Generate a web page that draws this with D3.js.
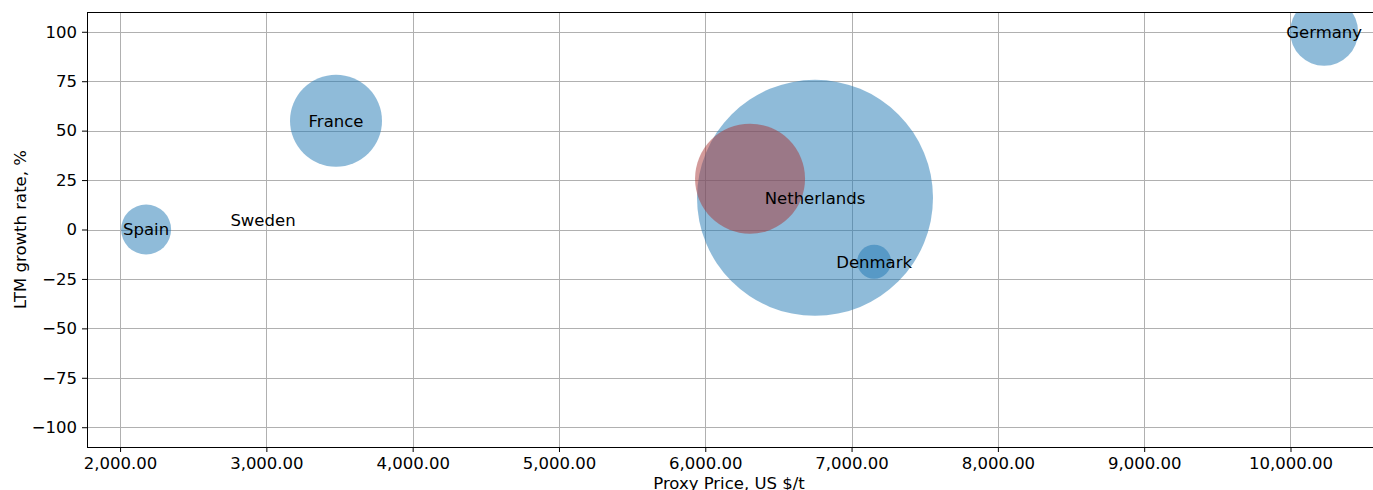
<!DOCTYPE html>
<html><head><meta charset="utf-8">
<script src="https://cdn.jsdelivr.net/npm/d3@7"></script>
<style>
body{margin:0;background:#fff;}
svg{display:block;font-family:"DejaVu Sans",sans-serif;}
</style></head>
<body><svg id="c" width="1373" height="490"></svg>
<script>
const countries = ["Spain","Sweden","France","Netherlands","Denmark","Germany"];
const prices = [2178, 2977, 3476, 6750, 7154, 10230];
const growth = [0, 4.5, 55, 16, -16.3, 100];
const sizes = [625, 0, 2116, 13924, 289, 1156];
const highlightPrice = [6306];
const highlightGrowth = [25.7];
const highlightSize = [3025];
const xTicks = [2000,3000,4000,5000,6000,7000,8000,9000,10000];
const yTicks = [-100,-75,-50,-25,0,25,50,75,100];

const FS = 16.5;
const svg = d3.select("#c");
const L=87, R=1373, T=12, B=447;
const x = d3.scaleLinear().domain([1774,10564]).range([L,R]);
const y = d3.scaleLinear().domain([-110,110]).range([B,T]);
const r = d3.scaleSqrt().domain([0,13924]).range([0,118]);

svg.append("defs").append("clipPath").attr("id","pc")
  .append("rect").attr("x",L).attr("y",T).attr("width",R-L).attr("height",B-T);

// grid
const g = svg.append("g");
g.selectAll(".gx").data(xTicks).enter().append("line")
  .attr("x1",d=>Math.round(x(d))+0.5).attr("x2",d=>Math.round(x(d))+0.5)
  .attr("y1",T).attr("y2",B).attr("stroke","#b0b0b0").attr("stroke-width",1);
g.selectAll(".gy").data(yTicks).enter().append("line")
  .attr("y1",d=>Math.round(y(d))+0.5).attr("y2",d=>Math.round(y(d))+0.5)
  .attr("x1",L).attr("x2",R).attr("stroke","#b0b0b0").attr("stroke-width",1);

// bubbles
const pg = svg.append("g").attr("clip-path","url(#pc)");
pg.selectAll(".b").data(countries).enter().append("circle")
  .attr("cx",(d,i)=>x(prices[i])).attr("cy",(d,i)=>y(growth[i]))
  .attr("r",(d,i)=>r(sizes[i]))
  .attr("fill","#1f77b4").attr("fill-opacity",0.5);
pg.selectAll(".h").data(highlightPrice).enter().append("circle")
  .attr("cx",(d,i)=>x(d)).attr("cy",(d,i)=>y(highlightGrowth[i]))
  .attr("r",(d,i)=>r(highlightSize[i]))
  .attr("fill","#a83535").attr("fill-opacity",0.5);

// labels
svg.selectAll(".lbl").data(countries).enter().append("text")
  .attr("x",(d,i)=>x(prices[i])).attr("y",(d,i)=>y(growth[i]))
  .attr("dy","0.35em").attr("text-anchor","middle")
  .attr("font-size",FS).attr("fill","#000").text(d=>d);

// axes
const fmt = d3.format(",.2f");
const xa = svg.append("g").attr("transform",`translate(0,${B})`)
  .call(d3.axisBottom(x).tickValues(xTicks).tickFormat(fmt).tickSize(5).tickPadding(5));
const ya = svg.append("g").attr("transform",`translate(${L},0)`)
  .call(d3.axisLeft(y).tickValues(yTicks).tickFormat(d=>d<0?"\u2212"+Math.abs(d):d).tickSize(5).tickPadding(5));
[xa,ya].forEach(a=>{
  a.selectAll("text").attr("font-size",FS).attr("fill","#000").attr("font-family","DejaVu Sans");
  a.selectAll("line").attr("stroke","#000");
  a.select(".domain").attr("stroke","#000").attr("stroke-width",1);
});
xa.select(".domain").attr("d",`M${L},0.5H${R}`);
ya.select(".domain").attr("d",`M0.5,${T}V${B}`);
svg.append("line").attr("x1",L).attr("x2",R).attr("y1",T+0.5).attr("y2",T+0.5).attr("stroke","#000");

svg.append("text").attr("x",(L+R)/2-1).attr("y",489).attr("text-anchor","middle")
  .attr("font-size",FS).text("Proxy Price, US $/t");
svg.append("text").attr("transform",`translate(26,${(T+B)/2}) rotate(-90)`)
  .attr("text-anchor","middle").attr("font-size",FS).text("LTM growth rate, %");
</script></body></html>
